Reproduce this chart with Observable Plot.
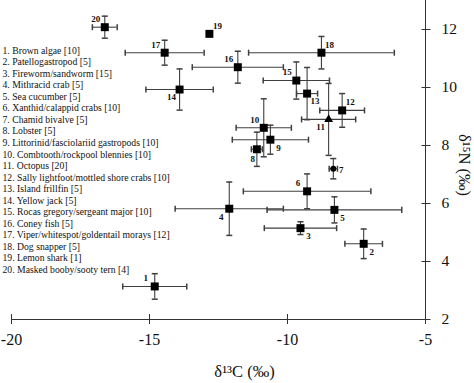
<!DOCTYPE html>
<html><head><meta charset="utf-8">
<script src="https://cdn.jsdelivr.net/npm/d3@7"></script>
<script src="https://cdn.jsdelivr.net/npm/@observablehq/plot@0.6"></script>
<style>body{margin:0;background:#fff} svg{display:block} svg, svg text{font-family:'Liberation Serif','Times New Roman',serif !important;}</style>
</head><body><div id="chart"></div>
<script>
// ---- data ----
const ids = [1,2,3,4,5,6,7,8,9,10,11,12,13,14,15,16,17,18,19,20];
const species = [
  "Brown algae","Patellogastropod","Fireworm/sandworm","Mithracid crab","Sea cucumber",
  "Xanthid/calappid crabs","Chamid bivalve","Lobster","Littorinid/fasciolariid gastropods",
  "Combtooth/rockpool blennies","Octopus","Sally lightfoot/mottled shore crabs","Island frillfin",
  "Yellow jack","Rocas gregory/sergeant major","Coney fish","Viper/whitespot/goldentail morays",
  "Dog snapper","Lemon shark","Masked booby/sooty tern"
];
const sampleN = [10,5,15,5,5,10,5,5,10,10,20,10,5,5,10,5,12,5,1,4];
const d13C = [-14.81,-7.24,-9.53,-12.11,-8.30,-9.29,-8.34,-11.11,-10.62,-10.86,-8.51,-8.02,-9.29,-13.91,-9.68,-11.80,-14.45,-8.77,-12.83,-16.62];
const d15N = [3.14,4.61,5.15,5.82,5.78,6.42,7.20,7.87,8.20,8.61,8.90,9.21,9.79,9.93,10.24,10.70,11.20,11.20,11.85,12.08];
const sdC  = [1.16,0.68,1.31,1.96,2.44,2.31,0.15,0.20,1.38,1.00,0.98,0.81,0.38,1.22,1.20,1.65,1.43,2.64,0,0.45];
const sdN  = [0.44,0.51,0.22,0.92,0.45,0.60,0.35,0.59,0.50,1.00,1.24,0.58,0.90,0.71,0.64,0.55,0.43,0.56,0,0.38];
const xTicks = [-20,-15,-10,-5];
const yTicks = [2,4,6,8,10,12];
const xLabel = "δ¹³C (‰)";
const yLabel = "δ¹⁵N (‰)";

// ---- config ----
const labelGroups = {
  ul: {ids:[20,17,16,15,10,6,1], dx:-9, dy:-8},
  ur: {ids:[19,18,12], dx:8, dy:-8},
  ll: {ids:[14,11,4], dx:-8, dy:8},
  lr: {ids:[13,9,5,3,2], dx:8, dy:8},
  b:  {ids:[8], dx:-4, dy:10},
  r:  {ids:[7], dx:8, dy:1}
};
const triangleIds = [11], smallIds = [7];

const rows = ids.map((id,i) => ({id, name: species[i], n: sampleN[i], x: d13C[i], y: d15N[i], xe: sdC[i], ye: sdN[i]}));
const withErr = rows.filter(d => d.xe > 0 || d.ye > 0);
const legendText = rows.map(d => `${d.id}. ${d.name} [${d.n}]`).join("\n");

const vCap = {draw(ctx, size){const h = Math.sqrt(size)/2; ctx.moveTo(0,-h); ctx.lineTo(0,h);}};
const hCap = {draw(ctx, size){const h = Math.sqrt(size)/2; ctx.moveTo(-h,0); ctx.lineTo(h,0);}};

const serif = "'Liberation Serif','Times New Roman',serif";
const barColor = "#3f3f3f";
const axisColor = "#333";

const labelMarks = Object.values(labelGroups).map(g =>
  Plot.text(rows.filter(d => g.ids.includes(d.id)), {
    x:"x", y:"y", text: d => String(d.id), dx: g.dx, dy: g.dy,
    fontSize: 9, fontWeight: "bold", fill: "#111", textAnchor: "middle", fontFamily: serif
  })
);

const chart = Plot.plot({
  width: 474, height: 383,
  marginLeft: 11, marginRight: 49, marginTop: 0, marginBottom: 64,
  style: {fontFamily: serif, background: "#fff", color: "#111"},
  x: {domain: [-20, -5]},
  y: {domain: [2, 13]},
  marks: [
    // axes lines
    Plot.ruleY([2], {stroke: axisColor}),
    Plot.ruleX([-5], {stroke: axisColor}),
    Plot.axisX(xTicks, {anchor:"bottom", tickSize: 10, dy: -5, fill: "none", stroke: axisColor, label: null}),
    Plot.axisX(xTicks, {anchor:"bottom", tickSize: 0, tickPadding: 14.5, fontSize: 16, fontFamily: serif, tickFormat: d => String(d), label: null, fill:"#111"}),
    Plot.axisY(yTicks, {anchor:"right", tickSize: 9, insetRight: 4.5, fill: "none", stroke: axisColor, label: null}),
    Plot.axisY(yTicks, {anchor:"right", tickSize: 0, tickPadding: 16, fontSize: 15.5, fontFamily: serif, tickFormat: d => String(d), label: null, fill:"#111"}),
    // axis titles
    Plot.text([xLabel], {frameAnchor: "bottom", dx: 26, dy: 52, fontSize: 16.5, fontFamily: serif, lineAnchor: "middle", fill:"#111"}),
    Plot.text([yLabel], {frameAnchor: "right", dx: 39, dy: 36, fontSize: 16.5, fontFamily: serif, rotate: 90, lineAnchor: "middle", fill:"#111"}),
    // legend
    Plot.text([legendText], {frameAnchor: "top-left", textAnchor: "start", lineAnchor: "top", lineHeight: 1.19, fontSize: 9.7, fontFamily: serif, dx: -9, dy: 45, fill: "#111"}),
    // error bars
    Plot.ruleY(withErr, {y:"y", x1: d => d.x - d.xe, x2: d => d.x + d.xe, stroke: barColor, strokeWidth: 1.1}),
    Plot.ruleX(withErr, {x:"x", y1: d => d.y - d.ye, y2: d => d.y + d.ye, stroke: barColor, strokeWidth: 1.1}),
    Plot.dot(withErr.flatMap(d => [{x: d.x - d.xe, y: d.y}, {x: d.x + d.xe, y: d.y}]), {x:"x", y:"y", symbol: vCap, r: 3.4, fill: "none", stroke: barColor}),
    Plot.dot(withErr.flatMap(d => [{x: d.x, y: d.y - d.ye}, {x: d.x, y: d.y + d.ye}]), {x:"x", y:"y", symbol: hCap, r: 3.4, fill: "none", stroke: barColor}),
    // markers
    Plot.dot(rows.filter(d => !triangleIds.includes(d.id) && !smallIds.includes(d.id)), {x:"x", y:"y", symbol: "square", r: 4.5, fill: "#000", stroke: "none"}),
    Plot.dot(rows.filter(d => triangleIds.includes(d.id)), {x:"x", y:"y", symbol: "triangle", r: 3.3, fill: "#000", stroke: "none"}),
    Plot.dot(rows.filter(d => smallIds.includes(d.id)), {x:"x", y:"y", symbol: "circle", r: 3, fill: "#000", stroke: "none"}),
    ...labelMarks
  ]
});
document.getElementById("chart").append(chart);
</script>
</body></html>
